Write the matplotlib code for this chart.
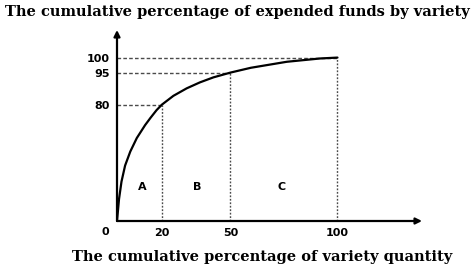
import numpy as np
import matplotlib.pyplot as plt

# curve (cumulative % of varieties -> cumulative % of funds)
var_pct = [0, 0.9, 2.0, 3.6, 5.9, 8.8, 12.5, 14.9, 17.6, 20, 25, 30.8, 36.6, 42.5,
           50, 59.5, 76.3, 91.8, 100]
fund_pct = [0, 15.1, 27.1, 38.1, 47.7, 57.0, 65.9, 70.9, 76.2, 80, 84.1, 87.6, 90.4, 92.75,
            95, 96.6, 98.6, 99.7, 100]

cut_x = [20, 50, 100]
cut_y = [80, 95, 100]
x_ticks = [20, 50, 100]
y_ticks = [80, 95, 100]
classes = ['A', 'B', 'C']
class_x = [11.1, 35.3, 74.1]
class_y = 23.3

# the original axes are not drawn to scale: piecewise scales reproduce the spacing
xk, xp = [0, 20, 50, 100, 140], [0, 45, 113.5, 220.5, 306.1]
yk, yp = [0, 80, 95, 100, 120], [0, 116.5, 148.5, 163.5, 223.5]

fig = plt.figure(figsize=(4.74, 2.66), dpi=100)
ax = fig.add_axes([117 / 474, 45 / 266, 305 / 474, 191 / 266])

ax.set_xscale('function', functions=(lambda v: np.interp(v, xk, xp),
                                     lambda v: np.interp(v, xp, xk)))
ax.set_yscale('function', functions=(lambda v: np.interp(v, yk, yp),
                                     lambda v: np.interp(v, yp, yk)))
ax.set_xlim(0, 139.5)
ax.set_ylim(0, 109.2)

dash_col = '#4a4a4a'
for cx, cy in zip(cut_x, cut_y):
    ax.plot([0, cx], [cy, cy], color=dash_col, lw=1, ls=(0, (2.6, 1.6)))
    ax.plot([cx, cx], [0, cy], color=dash_col, lw=1, ls=(0, (1.3, 1.2)))

ax.plot(var_pct, fund_pct, color='black', lw=1.6, solid_joinstyle='round',
        solid_capstyle='round', zorder=3)

for s in ax.spines.values():
    s.set_visible(False)
ax.annotate('', xy=(1, 0), xytext=(0, 0), xycoords='axes fraction',
            arrowprops=dict(arrowstyle='-|>', color='black', lw=1.6,
                            mutation_scale=9, shrinkA=0, shrinkB=0))
ax.annotate('', xy=(0, 1), xytext=(0, 0), xycoords='axes fraction',
            arrowprops=dict(arrowstyle='-|>', color='black', lw=1.6,
                            mutation_scale=9, shrinkA=0, shrinkB=0))

ax.set_xticks(x_ticks)
ax.set_yticks(y_ticks)
ax.set_xticklabels([str(t) for t in x_ticks])
ax.set_yticklabels([str(t) for t in y_ticks])
ax.tick_params(length=0, labelsize=8, pad=5)
for lab in ax.get_xticklabels() + ax.get_yticklabels():
    lab.set_fontweight('bold')
ax.annotate('0', xy=(0, 0), xytext=(-8.5, -8), textcoords='offset points',
            ha='center', va='center', fontsize=8, fontweight='bold')

for lab, lx in zip(classes, class_x):
    ax.text(lx, class_y, lab, ha='center', va='center', fontsize=8, fontweight='bold')

fig.text(0.5, 1 - 12 / 266, 'The cumulative percentage of expended funds by variety',
         ha='center', va='center', family='DejaVu Serif', fontweight='bold', fontsize=10.5)
fig.text(262 / 474, 9 / 266, 'The cumulative percentage of variety quantity',
         ha='center', va='center', family='DejaVu Serif', fontweight='bold', fontsize=10.5)

fig.savefig('out.png', dpi=100)
